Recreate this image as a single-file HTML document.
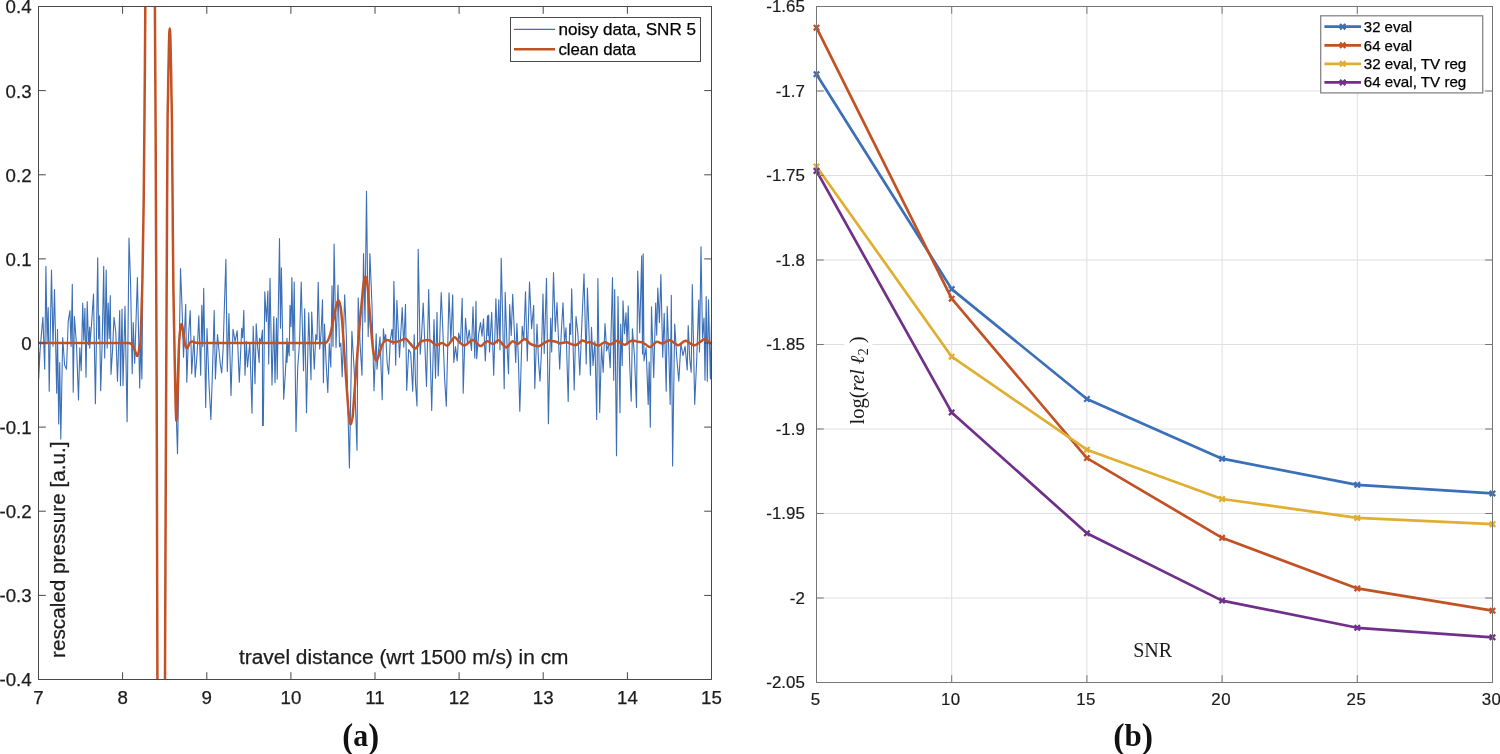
<!DOCTYPE html>
<html lang="en"><head><meta charset="utf-8"><title>Figure</title>
<style>html,body{margin:0;padding:0;background:#fff}body{width:1500px;height:754px;overflow:hidden}svg{display:block}</style></head>
<body>
<svg width="1500" height="754" viewBox="0 0 1500 754">
<defs><clipPath id="ca"><rect x="38.5" y="6.5" width="673.0" height="673.0"/></clipPath>
<g id="mk"><path d="M-2.7 -2.7L2.7 2.7M-2.7 2.7L2.7 -2.7" stroke-width="2.3" fill="none"/></g></defs>
<rect width="1500" height="754" fill="#fff"/>
<g clip-path="url(#ca)">
<path d="M38.7 352.0 L38.7 379.0 L40.1 349.7 L41.5 333.1 L42.9 317.2 L44.7 369.2 L45.9 266.2 L47.1 341.4 L48.2 307.5 L49.2 391.3 L51.5 270.0 L53.0 346.2 L54.5 289.5 L56.7 393.2 L57.5 329.2 L58.7 424.0 L59.7 362.5 L60.8 439.0 L62.7 337.5 L64.6 365.0 L66.5 369.2 L68.2 321.6 L69.9 310.5 L71.1 346.5 L72.3 284.2 L73.2 392.2 L74.4 316.5 L76.5 345.1 L78.5 400.0 L79.8 347.8 L81.2 370.7 L82.7 303.0 L83.8 340.6 L84.9 308.2 L86.0 377.2 L87.2 301.5 L88.5 344.8 L89.7 327.0 L89.7 348.2 L91.6 323.3 L93.5 294.0 L95.4 403.7 L97.7 257.7 L98.6 338.8 L99.5 315.7 L100.7 390.7 L102.2 341.5 L103.7 266.2 L104.7 358.0 L106.2 270.0 L107.2 348.1 L108.2 303.0 L109.2 338.6 L110.3 295.5 L111.0 374.2 L112.5 350.9 L114.0 317.2 L115.8 332.2 L117.5 381.2 L119.7 310.5 L120.5 385.7 L122.0 309.0 L123.0 385.4 L125.0 306.4 L127.1 421.7 L129.0 238.0 L130.6 283.2 L132.2 373.7 L133.2 322.5 L134.7 363.2 L137.4 277.5 L139.7 388.0 L140.8 339.1 L141.9 379.0 L142.6 300.0 M176.4 419.0 L177.5 453.7 L179.0 364.3 L180.5 268.5 L182.0 306.2 L183.5 357.2 L185.7 304.2 L186.8 382.3 L188.5 336.3 L190.2 310.5 L191.7 373.7 L194.0 336.0 L195.2 377.2 L197.0 355.3 L198.8 315.7 L200.7 375.2 L201.8 305.2 L202.8 346.6 L203.7 288.4 L205.7 407.5 L207.0 328.5 L209.0 383.9 L210.9 419.5 L212.6 366.4 L214.2 310.5 L215.4 379.0 L217.5 334.5 L218.9 349.5 L220.3 364.1 L221.7 373.0 L223.1 349.4 L224.5 302.7 L225.9 259.2 L227.3 371.5 L228.9 313.5 L231.0 395.5 L233.0 329.2 L235.1 341.7 L237.2 330.7 L239.3 382.3 L241.7 328.2 L242.7 337.9 L243.8 310.2 L245.0 375.2 L246.3 341.2 L247.5 367.0 L249.8 342.6 L252.0 413.2 L253.2 326.2 L255.0 383.8 L256.2 323.7 L257.7 347.8 L259.2 362.5 L259.5 338.2 L261.0 341.9 L262.5 330.0 L262.5 425.5 L263.3 425.5 L264.8 291.7 L266.4 321.5 L267.9 291.0 L268.7 364.0 L270.0 278.2 L272.0 385.0 L273.8 316.5 L275.0 382.7 L276.5 318.0 L277.2 379.0 L279.5 238.5 L280.5 328.2 L281.4 267.7 L283.7 399.2 L285.3 373.7 L287.0 338.2 L287.0 362.5 L288.1 344.1 L289.2 355.7 L290.0 305.2 L291.0 326.6 L291.9 277.5 L293.1 350.4 L294.2 282.0 L296.0 431.5 L297.7 367.6 L299.5 343.4 L301.2 282.0 L303.5 370.7 L304.7 308.7 L306.5 412.7 L308.7 312.7 L311.0 379.7 L311.7 312.0 L314.3 369.2 L315.8 334.5 L317.0 339.9 L318.2 282.3 L319.7 349.0 L321.1 332.9 L322.5 299.7 L323.4 382.7 L324.5 324.0 L326.1 363.0 L327.8 392.5 L329.3 343.6 L330.8 367.0 L332.0 285.7 L333.0 346.6 L334.1 244.0 L336.0 347.6 L338.0 285.0 L339.5 346.7 L340.8 343.1 L342.2 376.7 L344.7 294.7 L346.3 334.7 L347.8 404.5 L349.4 467.9 L351.9 331.2 L354.4 374.2 L357.0 450.2 L358.2 297.7 L360.1 344.1 L362.0 375.2 L363.5 253.5 L365.0 322.1 L366.5 191.3 L368.2 336.4 L369.9 253.5 L372.0 305.8 L374.0 390.7 L376.2 333.7 L377.0 369.2 L378.5 351.3 L380.0 336.7 L382.2 399.7 L383.4 328.8 L384.6 341.5 L385.7 334.5 L387.2 363.5 L388.7 374.2 L390.3 339.9 L392.0 329.2 L393.0 344.5 L393.9 281.2 L395.7 365.2 L396.9 300.3 L399.5 357.2 L402.2 307.5 L403.8 347.1 L405.5 304.2 L406.7 390.2 L408.7 349.6 L410.7 353.1 L412.7 391.3 L414.2 334.5 L415.6 384.7 L417.0 406.0 L418.2 249.3 L420.2 354.2 L421.7 333.6 L423.2 303.0 L424.8 343.4 L426.5 386.5 L428.7 289.5 L430.2 352.9 L431.7 410.5 L434.0 319.5 L435.5 378.2 L437.0 312.4 L438.2 376.0 L439.7 340.1 L441.2 292.5 L442.9 331.5 L444.6 378.7 L446.3 406.3 L449.0 292.9 L450.9 341.1 L452.7 294.7 L453.8 362.5 L455.5 346.6 L457.2 361.0 L458.7 333.0 L460.5 341.8 L462.2 298.2 L463.2 393.2 L465.5 318.4 L467.4 342.6 L469.2 330.0 L471.5 350.5 L473.0 306.7 L474.8 358.0 L476.0 301.2 L476.7 358.7 L478.6 334.7 L480.5 322.5 L482.0 336.3 L483.5 318.7 L485.3 361.0 L487.5 315.7 L488.1 335.7 L488.7 315.0 L489.5 352.0 L491.7 312.4 L493.7 375.2 L495.9 298.8 L497.4 343.2 L498.8 299.7 L500.0 349.7 L501.2 258.3 L502.7 319.8 L504.2 388.7 L505.2 292.2 L506.9 342.3 L508.5 373.7 L509.7 304.5 L511.2 335.5 L512.7 294.3 L514.2 328.6 L515.7 362.5 L516.9 323.5 L518.4 359.5 L519.8 411.2 L522.2 326.2 L523.8 340.2 L525.5 291.7 L527.3 361.0 L529.5 282.0 L531.6 328.8 L533.7 305.2 L534.8 388.4 L537.0 324.0 L538.5 361.1 L540.0 381.2 L541.5 350.8 L543.0 294.0 L544.2 353.5 L546.5 278.2 L548.4 423.7 L550.7 318.4 L551.7 352.0 L553.5 272.5 L555.3 331.4 L557.0 302.5 L559.7 369.2 L561.3 332.0 L563.0 302.7 L564.5 342.7 L566.0 327.7 L568.2 401.5 L569.7 323.5 L570.7 334.5 L571.7 288.7 L574.2 389.9 L576.0 316.5 L577.9 333.3 L579.8 374.9 L581.2 340.0 L582.6 306.1 L584.0 273.7 L586.2 364.0 L587.4 288.0 L588.9 328.9 L590.4 375.2 L591.5 327.4 L593.0 365.5 L594.9 341.2 L596.7 419.5 L597.9 278.5 L599.7 412.4 L601.5 346.0 L603.2 372.2 L605.0 323.5 L606.7 350.9 L608.5 343.8 L610.2 367.7 L612.5 277.5 L613.7 380.2 L614.7 289.5 L616.5 455.8 L618.0 296.5 L620.0 412.7 L620.7 324.0 L622.2 365.5 L623.0 300.7 L624.5 333.8 L626.0 312.7 L627.1 344.8 L628.2 306.0 L629.7 364.9 L631.2 401.2 L632.4 328.8 L634.5 356.7 L636.5 407.5 L637.7 271.0 L639.7 332.7 L641.7 255.7 L642.5 354.0 L643.2 253.9 L644.0 361.0 L646.1 347.5 L648.2 404.5 L649.2 362.0 L650.3 427.3 L651.5 306.7 L653.7 377.5 L655.7 303.0 L656.7 335.2 L657.8 288.0 L659.4 322.4 L660.9 274.5 L662.7 357.2 L664.2 313.2 L666.2 391.3 L667.2 306.4 L668.7 348.4 L670.2 404.5 L671.3 295.2 L672.6 466.0 L674.7 324.0 L676.8 358.3 L678.8 381.2 L680.9 343.5 L683.0 355.7 L685.1 346.4 L687.2 370.0 L688.2 325.5 L689.7 359.0 L691.2 372.2 L692.3 284.5 L694.7 404.5 L696.7 360.0 L698.7 300.0 L699.5 352.0 L701.0 246.7 L702.5 337.8 L704.0 318.0 L705.0 380.2 L706.2 296.5 L707.3 381.2 L708.5 299.7 L710.4 379.0 L711.5 321.0 L711.7 352.0" fill="none" stroke="#3b6fb7" stroke-width="1.1" stroke-linejoin="round"/>
<path d="M38.7 343.0 C39.2 343.0 40.7 343.0 41.7 343.0 C42.7 343.0 43.7 343.0 44.7 343.0 C45.7 343.0 46.7 343.0 47.7 343.0 C48.7 343.0 49.7 343.0 50.7 343.0 C51.7 343.0 52.7 343.0 53.7 343.0 C54.7 343.0 55.7 343.0 56.7 343.0 C57.7 343.0 58.7 343.0 59.7 343.0 C60.7 343.0 61.6 343.0 62.6 343.0 C63.6 343.0 64.6 343.0 65.6 343.0 C66.6 343.0 67.6 343.0 68.6 343.0 C69.6 343.0 70.6 343.0 71.6 343.0 C72.6 343.0 73.6 343.0 74.6 343.0 C75.6 343.0 76.6 343.0 77.6 343.0 C78.6 343.0 79.6 343.0 80.6 343.0 C81.6 343.0 82.6 343.0 83.6 343.0 C84.6 343.0 85.6 343.0 86.6 343.0 C87.6 343.0 88.6 343.0 89.6 343.0 C90.6 343.0 91.6 343.0 92.6 343.0 C93.6 343.0 94.6 343.0 95.6 343.0 C96.6 343.0 97.6 343.0 98.6 343.0 C99.6 343.0 100.6 343.0 101.6 343.0 C102.6 343.0 103.6 343.0 104.6 343.0 C105.6 343.0 106.5 343.0 107.5 343.0 C108.5 343.0 109.5 343.0 110.5 343.0 C111.5 343.0 112.5 343.0 113.5 343.0 C114.5 343.0 115.5 343.0 116.5 343.0 C117.5 343.0 118.5 343.0 119.5 343.0 C120.5 343.0 121.5 343.0 122.5 343.0 C123.5 343.0 124.5 343.0 125.5 343.0 C126.5 343.0 127.6 342.9 128.5 343.0 C129.4 343.1 130.2 343.2 131.0 343.8 C131.8 344.4 132.5 345.2 133.2 346.5 C133.9 347.8 134.8 350.1 135.3 351.5 C135.9 352.9 136.2 353.9 136.5 354.6 C136.8 355.3 137.1 356.2 137.4 355.8 C137.8 355.4 138.2 354.1 138.6 352.5 C139.0 350.9 139.3 347.6 139.6 346.0 C139.9 344.4 140.1 348.2 140.4 343.0 C140.7 337.8 141.1 325.5 141.4 315.0 C141.7 304.5 142.0 299.2 142.4 280.0 C142.8 260.8 143.3 230.0 143.7 200.0 C144.1 170.0 144.3 132.3 144.6 100.0 C144.9 67.7 145.0 56.4 145.3 6.4 C145.6 -43.6 145.9 -128.9 146.3 -200.0 C146.8 -271.1 147.4 -370.0 148.0 -420.0 C148.6 -470.0 149.4 -500.0 150.1 -500.0 C150.8 -500.0 151.6 -470.0 152.2 -420.0 C152.8 -370.0 153.4 -271.1 153.8 -200.0 C154.2 -128.9 154.6 -45.3 154.9 6.4 C155.2 58.1 155.3 77.7 155.5 110.0 C155.7 142.3 155.8 163.3 155.9 200.0 C156.1 236.7 156.2 290.0 156.4 330.0 C156.6 370.0 156.6 381.8 156.8 440.0 C157.0 498.2 157.2 602.3 157.4 679.0 C157.6 755.7 157.8 826.5 158.2 900.0 C158.5 973.5 159.0 1070.0 159.5 1120.0 C160.0 1170.0 160.6 1200.0 161.2 1200.0 C161.8 1200.0 162.4 1170.0 162.9 1120.0 C163.4 1070.0 163.8 973.5 164.2 900.0 C164.5 826.5 164.8 742.3 165.0 679.0 C165.2 615.7 165.4 566.5 165.6 520.0 C165.8 473.5 165.9 436.7 166.1 400.0 C166.3 363.3 166.4 333.3 166.6 300.0 C166.8 266.7 166.9 230.3 167.1 200.0 C167.3 169.7 167.4 136.0 167.6 118.0 C167.8 100.0 168.0 99.9 168.1 92.0 C168.2 84.1 168.3 77.9 168.4 70.5 C168.6 63.1 168.8 53.8 168.9 47.5 C169.0 41.2 169.2 36.1 169.3 33.0 C169.4 29.9 169.6 28.6 169.8 28.6 C169.9 28.6 170.1 29.9 170.2 33.0 C170.3 36.1 170.5 41.2 170.6 47.5 C170.7 53.8 170.9 63.1 171.1 70.5 C171.2 77.9 171.3 84.1 171.4 92.0 C171.5 99.9 171.7 100.0 171.9 118.0 C172.1 136.0 172.3 171.3 172.6 200.0 C172.8 228.7 173.1 266.2 173.4 290.0 C173.7 313.8 174.1 325.5 174.4 343.0 C174.7 360.5 175.1 382.1 175.4 395.0 C175.7 407.9 176.0 418.0 176.3 420.2 C176.6 422.4 176.8 415.5 177.1 408.0 C177.4 400.5 177.7 385.8 178.0 375.0 C178.3 364.2 178.7 350.7 179.1 343.0 C179.5 335.3 179.9 332.1 180.3 329.0 C180.7 325.9 181.2 323.8 181.7 324.1 C182.2 324.4 182.6 327.9 183.1 331.0 C183.6 334.1 184.2 340.3 184.7 343.0 C185.2 345.7 185.6 346.1 186.0 347.0 C186.4 347.9 186.7 348.5 187.1 348.3 C187.5 348.1 188.0 346.9 188.4 346.0 C188.8 345.1 189.1 343.8 189.7 343.0 C190.3 342.2 191.1 341.6 192.0 341.5 C192.9 341.4 194.0 342.2 195.0 342.5 C196.0 342.8 197.0 342.9 198.0 343.0 C199.0 343.1 200.0 343.0 201.0 343.0 C202.0 343.0 202.9 343.0 203.9 343.0 C204.9 343.0 205.9 343.0 206.9 343.0 C207.9 343.0 208.9 343.0 209.9 343.0 C210.8 343.0 211.8 343.0 212.8 343.0 C213.8 343.0 214.8 343.0 215.8 343.0 C216.8 343.0 217.8 343.0 218.8 343.0 C219.7 343.0 220.7 343.0 221.7 343.0 C222.7 343.0 223.7 343.0 224.7 343.0 C225.7 343.0 226.7 343.0 227.7 343.0 C228.6 343.0 229.6 343.0 230.6 343.0 C231.6 343.0 232.6 343.0 233.6 343.0 C234.6 343.0 235.6 343.0 236.5 343.0 C237.5 343.0 238.5 343.0 239.5 343.0 C240.5 343.0 241.5 343.0 242.5 343.0 C243.5 343.0 244.5 343.0 245.4 343.0 C246.4 343.0 247.4 343.0 248.4 343.0 C249.4 343.0 250.4 343.0 251.4 343.0 C252.4 343.0 253.3 343.0 254.3 343.0 C255.3 343.0 256.3 343.0 257.3 343.0 C258.3 343.0 259.3 343.0 260.3 343.0 C261.3 343.0 262.2 343.0 263.2 343.0 C264.2 343.0 265.2 343.0 266.2 343.0 C267.2 343.0 268.2 343.0 269.2 343.0 C270.2 343.0 271.1 343.0 272.1 343.0 C273.1 343.0 274.1 343.0 275.1 343.0 C276.1 343.0 277.1 343.0 278.1 343.0 C279.0 343.0 280.0 343.0 281.0 343.0 C282.0 343.0 283.0 343.0 284.0 343.0 C285.0 343.0 286.0 343.0 287.0 343.0 C287.9 343.0 288.9 343.0 289.9 343.0 C290.9 343.0 291.9 343.0 292.9 343.0 C293.9 343.0 294.9 343.0 295.8 343.0 C296.8 343.0 297.8 343.0 298.8 343.0 C299.8 343.0 300.8 343.0 301.8 343.0 C302.8 343.0 303.8 343.0 304.7 343.0 C305.7 343.0 306.7 343.0 307.7 343.0 C308.7 343.0 309.7 343.0 310.7 343.0 C311.7 343.0 312.7 343.0 313.6 343.0 C314.6 343.0 315.6 343.0 316.6 343.0 C317.6 343.0 318.6 343.0 319.6 343.0 C320.6 343.0 321.5 343.0 322.5 343.0 C323.5 343.0 324.6 343.4 325.5 343.0 C326.4 342.6 327.2 342.0 328.0 340.5 C328.8 339.0 329.6 336.4 330.3 334.0 C331.0 331.6 331.6 328.8 332.2 326.0 C332.8 323.2 333.4 320.1 333.9 317.3 C334.4 314.6 334.9 311.7 335.4 309.5 C335.9 307.3 336.2 305.7 336.7 304.2 C337.2 302.7 338.0 300.2 338.6 300.6 C339.2 301.0 339.9 303.3 340.5 306.5 C341.1 309.7 341.5 314.6 342.0 320.0 C342.5 325.4 342.8 329.7 343.4 338.8 C344.0 347.9 345.0 363.1 345.8 374.6 C346.6 386.1 347.6 400.4 348.2 408.0 C348.8 415.6 349.1 417.3 349.5 420.0 C349.9 422.7 350.2 424.1 350.6 424.2 C351.0 424.3 351.4 422.4 351.8 420.5 C352.2 418.6 352.2 421.9 353.0 412.7 C353.8 403.4 355.3 380.5 356.5 365.0 C357.7 349.5 359.0 332.4 360.1 319.7 C361.2 307.0 362.3 295.3 363.0 288.6 C363.7 281.9 364.0 281.5 364.4 279.5 C364.8 277.5 365.2 276.6 365.6 276.7 C366.0 276.8 366.4 277.6 366.8 280.0 C367.2 282.4 367.3 283.2 368.0 291.0 C368.7 298.8 370.0 316.9 370.9 326.8 C371.8 336.8 372.5 345.5 373.2 350.7 C373.9 355.9 374.3 356.2 374.8 357.8 C375.3 359.4 375.8 360.1 376.3 360.2 C376.8 360.3 377.3 359.3 377.8 358.3 C378.3 357.3 378.4 356.8 379.2 354.3 C380.0 351.8 381.5 345.9 382.8 343.5 C384.1 341.1 385.0 340.2 386.8 340.0 C388.6 339.8 391.4 342.1 393.5 342.3 C395.6 342.5 397.5 341.7 399.5 341.1 C401.5 340.5 403.7 338.4 405.5 338.8 C407.3 339.2 408.6 341.9 410.2 343.5 C411.8 345.1 413.6 348.8 415.3 348.5 C417.1 348.2 418.9 343.2 420.7 341.8 C422.4 340.4 424.4 340.4 426.0 340.2 C427.6 340.0 428.5 339.9 430.3 340.7 C432.0 341.6 434.7 345.0 436.7 345.3 C438.6 345.7 440.2 342.8 442.0 342.9 C443.8 342.9 445.8 346.0 447.3 345.7 C448.8 345.5 449.8 342.7 451.1 341.3 C452.3 339.9 453.5 337.2 454.8 337.3 C456.1 337.4 457.5 340.4 459.1 341.8 C460.7 343.2 462.6 345.5 464.4 345.5 C466.2 345.5 468.3 342.7 469.7 341.8 C471.2 340.9 471.9 339.8 472.9 339.9 C474.0 340.0 474.9 341.3 476.1 342.3 C477.4 343.4 479.0 346.0 480.4 346.1 C481.8 346.2 483.4 343.7 484.7 342.9 C485.9 342.1 486.4 341.1 487.9 341.3 C489.3 341.4 491.4 344.1 493.2 343.9 C495.0 343.8 496.9 340.1 498.5 340.2 C500.1 340.3 501.5 343.3 502.8 344.5 C504.1 345.7 505.3 347.6 506.5 347.5 C507.8 347.3 509.2 344.4 510.3 343.4 C511.3 342.4 511.7 341.2 512.9 341.3 C514.2 341.4 516.2 344.0 517.7 343.9 C519.2 343.8 520.8 341.5 522.0 340.7 C523.2 339.9 523.8 338.6 525.2 339.1 C526.6 339.7 528.9 342.9 530.5 343.9 C532.1 345.0 533.4 345.2 534.8 345.5 C536.2 345.9 537.5 346.5 539.1 346.1 C540.7 345.6 542.8 343.8 544.4 342.9 C546.0 342.0 547.1 341.0 548.7 340.7 C550.3 340.5 552.2 340.9 554.0 341.3 C555.8 341.7 558.3 342.8 559.3 343.2 C560.3 343.5 558.8 343.5 560.0 343.4 C561.2 343.3 564.6 342.2 566.4 342.3 C568.2 342.4 569.2 343.4 570.7 343.9 C572.2 344.4 574.0 345.5 575.5 345.3 C576.9 345.1 578.0 343.7 579.2 342.9 C580.4 342.0 581.2 340.5 582.4 340.4 C583.6 340.3 585.6 342.0 586.7 342.3 C587.7 342.7 588.1 342.3 588.8 342.3 C589.5 342.3 589.9 342.0 590.9 342.3 C592.0 342.7 593.9 343.9 595.2 344.5 C596.5 345.0 597.7 345.7 598.9 345.5 C600.2 345.3 601.6 343.7 602.7 343.2 C603.7 342.7 604.1 342.1 605.3 342.3 C606.6 342.5 608.8 344.4 610.1 344.5 C611.5 344.6 612.2 343.5 613.3 342.9 C614.5 342.2 615.8 340.7 617.1 340.7 C618.3 340.7 619.5 342.2 620.8 342.9 C622.1 343.5 623.6 344.9 625.1 344.7 C626.5 344.5 628.0 342.5 629.3 341.8 C630.7 341.1 631.6 340.4 633.1 340.4 C634.5 340.4 636.4 341.5 637.9 341.8 C639.4 342.1 640.7 341.8 642.1 342.3 C643.6 342.9 645.1 344.2 646.4 345.0 C647.7 345.8 648.9 347.3 650.1 347.1 C651.4 347.0 652.7 344.8 653.9 343.9 C655.0 343.0 655.6 341.9 657.1 341.8 C658.5 341.7 660.8 343.7 662.4 343.6 C664.0 343.5 665.4 341.8 666.7 341.3 C667.9 340.7 668.6 339.9 669.9 340.2 C671.1 340.5 672.7 342.0 674.1 342.9 C675.6 343.7 677.0 345.4 678.4 345.3 C679.8 345.2 681.4 343.1 682.7 342.3 C683.9 341.6 684.6 340.6 685.9 340.7 C687.1 340.9 688.6 342.6 690.1 343.4 C691.6 344.2 693.3 345.5 694.9 345.3 C696.5 345.1 698.1 343.4 699.7 342.3 C701.3 341.3 703.1 339.3 704.5 339.1 C706.0 339.0 707.1 340.5 708.3 341.3 C709.4 342.1 710.9 343.5 711.5 343.9" fill="none" stroke="#c25225" stroke-width="2.5" stroke-linejoin="round" stroke-linecap="round"/>
</g>
<rect x="38.5" y="6.5" width="673.0" height="673.0" fill="none" stroke="#484848" stroke-width="1"/>
<path d="M122.6 679.5v-7.3M122.6 6.5v7.3M38.5 90.6h7.3M711.5 90.6h-7.3M206.8 679.5v-7.3M206.8 6.5v7.3M38.5 174.8h7.3M711.5 174.8h-7.3M290.9 679.5v-7.3M290.9 6.5v7.3M38.5 258.9h7.3M711.5 258.9h-7.3M375.0 679.5v-7.3M375.0 6.5v7.3M38.5 343.0h7.3M711.5 343.0h-7.3M459.1 679.5v-7.3M459.1 6.5v7.3M38.5 427.1h7.3M711.5 427.1h-7.3M543.2 679.5v-7.3M543.2 6.5v7.3M38.5 511.2h7.3M711.5 511.2h-7.3M627.4 679.5v-7.3M627.4 6.5v7.3M38.5 595.4h7.3M711.5 595.4h-7.3" stroke="#484848" stroke-width="1" fill="none"/>
<g font-family="'Liberation Sans', sans-serif" font-size="18.7" fill="#1c1c1c" stroke="#1c1c1c" stroke-width="0.25">
<g text-anchor="middle">
<text x="38.5" y="703.9">7</text>
<text x="122.6" y="703.9">8</text>
<text x="206.8" y="703.9">9</text>
<text x="290.9" y="703.9">10</text>
<text x="375.0" y="703.9">11</text>
<text x="459.1" y="703.9">12</text>
<text x="543.2" y="703.9">13</text>
<text x="627.4" y="703.9">14</text>
<text x="711.5" y="703.9">15</text>
</g><g text-anchor="end">
<text x="31.6" y="13.4">0.4</text>
<text x="31.6" y="97.5">0.3</text>
<text x="31.6" y="181.7">0.2</text>
<text x="31.6" y="265.8">0.1</text>
<text x="31.6" y="349.9">0</text>
<text x="31.6" y="434.0">-0.1</text>
<text x="31.6" y="518.1">-0.2</text>
<text x="31.6" y="602.3">-0.3</text>
<text x="31.6" y="686.4">-0.4</text>
</g>
<text x="239" y="664.3" font-size="19.6" textLength="329.5" lengthAdjust="spacingAndGlyphs">travel distance (wrt 1500 m/s) in cm</text>
<text transform="translate(64.6 658) rotate(-90)" font-size="19.6" textLength="216.5" lengthAdjust="spacingAndGlyphs">rescaled pressure [a.u.]</text>
</g>
<rect x="510.5" y="17.5" width="190" height="44" fill="#fff" stroke="#4a4a4a" stroke-width="1"/>
<path d="M514 29.35H555" stroke="#3b6fb7" stroke-width="1.2"/>
<path d="M514 49.3H555" stroke="#c25225" stroke-width="2.5"/>
<g font-family="'Liberation Sans', sans-serif" font-size="16.8" fill="#000" stroke="#000" stroke-width="0.25">
<text x="558.4" y="35.2" textLength="137.6" lengthAdjust="spacingAndGlyphs">noisy data, SNR 5</text>
<text x="558.4" y="55.2">clean data</text>
</g>
<path d="M951.7 6.5V682.5M1086.9 6.5V682.5M1222.1 6.5V682.5M1357.3 6.5V682.5M816.5 91.0H1492.5M816.5 175.5H1492.5M816.5 260.0H1492.5M816.5 344.5H1492.5M816.5 429.0H1492.5M816.5 513.5H1492.5M816.5 598.0H1492.5" stroke="#dfdfdf" stroke-width="1" fill="none"/>
<rect x="844.5" y="336" width="28" height="89.5" fill="#fff"/>
<path d="M816.5 74.2 L951.7 289.1 L1086.9 399.0 L1222.1 458.7 L1357.3 484.8 L1492.5 493.4" fill="none" stroke="#3b6fb7" stroke-width="2.7" stroke-linejoin="round"/>
<use href="#mk" x="816.5" y="74.2" stroke="#3b6fb7"/>
<use href="#mk" x="951.7" y="289.1" stroke="#3b6fb7"/>
<use href="#mk" x="1086.9" y="399.0" stroke="#3b6fb7"/>
<use href="#mk" x="1222.1" y="458.7" stroke="#3b6fb7"/>
<use href="#mk" x="1357.3" y="484.8" stroke="#3b6fb7"/>
<use href="#mk" x="1492.5" y="493.4" stroke="#3b6fb7"/>
<path d="M816.5 27.7 L951.7 298.7 L1086.9 458.1 L1222.1 537.8 L1357.3 588.4 L1492.5 610.7" fill="none" stroke="#c25225" stroke-width="2.7" stroke-linejoin="round"/>
<use href="#mk" x="816.5" y="27.7" stroke="#c25225"/>
<use href="#mk" x="951.7" y="298.7" stroke="#c25225"/>
<use href="#mk" x="1086.9" y="458.1" stroke="#c25225"/>
<use href="#mk" x="1222.1" y="537.8" stroke="#c25225"/>
<use href="#mk" x="1357.3" y="588.4" stroke="#c25225"/>
<use href="#mk" x="1492.5" y="610.7" stroke="#c25225"/>
<path d="M816.5 166.5 L951.7 356.7 L1086.9 449.7 L1222.1 499.0 L1357.3 517.9 L1492.5 524.2" fill="none" stroke="#e0ae30" stroke-width="2.7" stroke-linejoin="round"/>
<use href="#mk" x="816.5" y="166.5" stroke="#e0ae30"/>
<use href="#mk" x="951.7" y="356.7" stroke="#e0ae30"/>
<use href="#mk" x="1086.9" y="449.7" stroke="#e0ae30"/>
<use href="#mk" x="1222.1" y="499.0" stroke="#e0ae30"/>
<use href="#mk" x="1357.3" y="517.9" stroke="#e0ae30"/>
<use href="#mk" x="1492.5" y="524.2" stroke="#e0ae30"/>
<path d="M816.5 170.9 L951.7 412.4 L1086.9 533.3 L1222.1 600.6 L1357.3 627.8 L1492.5 637.3" fill="none" stroke="#70308a" stroke-width="2.7" stroke-linejoin="round"/>
<use href="#mk" x="816.5" y="170.9" stroke="#70308a"/>
<use href="#mk" x="951.7" y="412.4" stroke="#70308a"/>
<use href="#mk" x="1086.9" y="533.3" stroke="#70308a"/>
<use href="#mk" x="1222.1" y="600.6" stroke="#70308a"/>
<use href="#mk" x="1357.3" y="627.8" stroke="#70308a"/>
<use href="#mk" x="1492.5" y="637.3" stroke="#70308a"/>
<rect x="816.5" y="6.5" width="676.0" height="676.0" fill="none" stroke="#757575" stroke-width="1"/>
<path d="M951.7 682.5v-7.3M951.7 6.5v7.3M1086.9 682.5v-7.3M1086.9 6.5v7.3M1222.1 682.5v-7.3M1222.1 6.5v7.3M1357.3 682.5v-7.3M1357.3 6.5v7.3M816.5 91.0h7.3M1492.5 91.0h-7.3M816.5 175.5h7.3M1492.5 175.5h-7.3M816.5 260.0h7.3M1492.5 260.0h-7.3M816.5 344.5h7.3M1492.5 344.5h-7.3M816.5 429.0h7.3M1492.5 429.0h-7.3M816.5 513.5h7.3M1492.5 513.5h-7.3M816.5 598.0h7.3M1492.5 598.0h-7.3" stroke="#757575" stroke-width="1" fill="none"/>
<g font-family="'Liberation Sans', sans-serif" font-size="16.9" fill="#1c1c1c" stroke="#1c1c1c" stroke-width="0.2">
<g text-anchor="middle">
<text x="815.6" y="704.6" letter-spacing="0.45">5</text>
<text x="950.8" y="704.6" letter-spacing="0.45">10</text>
<text x="1086.0" y="704.6" letter-spacing="0.45">15</text>
<text x="1221.2" y="704.6" letter-spacing="0.45">20</text>
<text x="1356.4" y="704.6" letter-spacing="0.45">25</text>
<text x="1491.6" y="704.6" letter-spacing="0.45">30</text>
</g><g text-anchor="end">
<text x="804.8" y="12.1">-1.65</text>
<text x="804.8" y="96.6">-1.7</text>
<text x="804.8" y="181.1">-1.75</text>
<text x="804.8" y="265.6">-1.8</text>
<text x="804.8" y="350.1">-1.85</text>
<text x="804.8" y="434.6">-1.9</text>
<text x="804.8" y="519.1">-1.95</text>
<text x="804.8" y="603.6">-2</text>
<text x="804.8" y="688.1">-2.05</text>
</g></g>
<g font-family="'Liberation Serif', 'DejaVu Serif', serif" fill="#1a1a1a">
<text x="1133.2" y="656.6" font-size="20.6" textLength="39" lengthAdjust="spacingAndGlyphs">SNR</text>
<text transform="translate(863.8 424.4) rotate(-90)" font-size="20" textLength="88" lengthAdjust="spacingAndGlyphs">log(<tspan font-style="italic">rel &#8467;</tspan><tspan font-size="14" dy="4">2</tspan><tspan dy="-4"> )</tspan></text>
</g>
<rect x="1320.7" y="15.8" width="162" height="77.1" fill="#fff" stroke="#8a8585" stroke-width="1.3"/>
<g font-family="'Liberation Sans', sans-serif" font-size="14.8" fill="#000" stroke="#000" stroke-width="0.25">
<path d="M1324.4 26.7H1361" stroke="#3b6fb7" stroke-width="2.7"/>
<use href="#mk" x="1342.7" y="26.7" stroke="#3b6fb7"/>
<text x="1363.8" y="32.0" textLength="48.3" lengthAdjust="spacingAndGlyphs">32 eval</text>
<path d="M1324.4 45.3H1361" stroke="#c25225" stroke-width="2.7"/>
<use href="#mk" x="1342.7" y="45.3" stroke="#c25225"/>
<text x="1363.8" y="50.6" textLength="48.3" lengthAdjust="spacingAndGlyphs">64 eval</text>
<path d="M1324.4 63.8H1361" stroke="#e0ae30" stroke-width="2.7"/>
<use href="#mk" x="1342.7" y="63.8" stroke="#e0ae30"/>
<text x="1363.8" y="69.0" textLength="102.5" lengthAdjust="spacingAndGlyphs">32 eval, TV reg</text>
<path d="M1324.4 82.4H1361" stroke="#70308a" stroke-width="2.7"/>
<use href="#mk" x="1342.7" y="82.4" stroke="#70308a"/>
<text x="1363.8" y="87.4" textLength="102.5" lengthAdjust="spacingAndGlyphs">64 eval, TV reg</text>
</g>
<g font-family="'Liberation Serif', serif" font-weight="bold" font-size="32" fill="#111">
<text transform="translate(342.3 745.6) scale(0.935 1)"><tspan font-size="35" dy="2.7">(</tspan><tspan dy="-2.7">a</tspan><tspan font-size="35" dy="2.7">)</tspan></text>
<text transform="translate(1113.3 745.6) scale(0.97 1)"><tspan font-size="35" dy="2.7">(</tspan><tspan dy="-2.7">b</tspan><tspan font-size="35" dy="2.7">)</tspan></text>
</g>
</svg>
</body></html>
